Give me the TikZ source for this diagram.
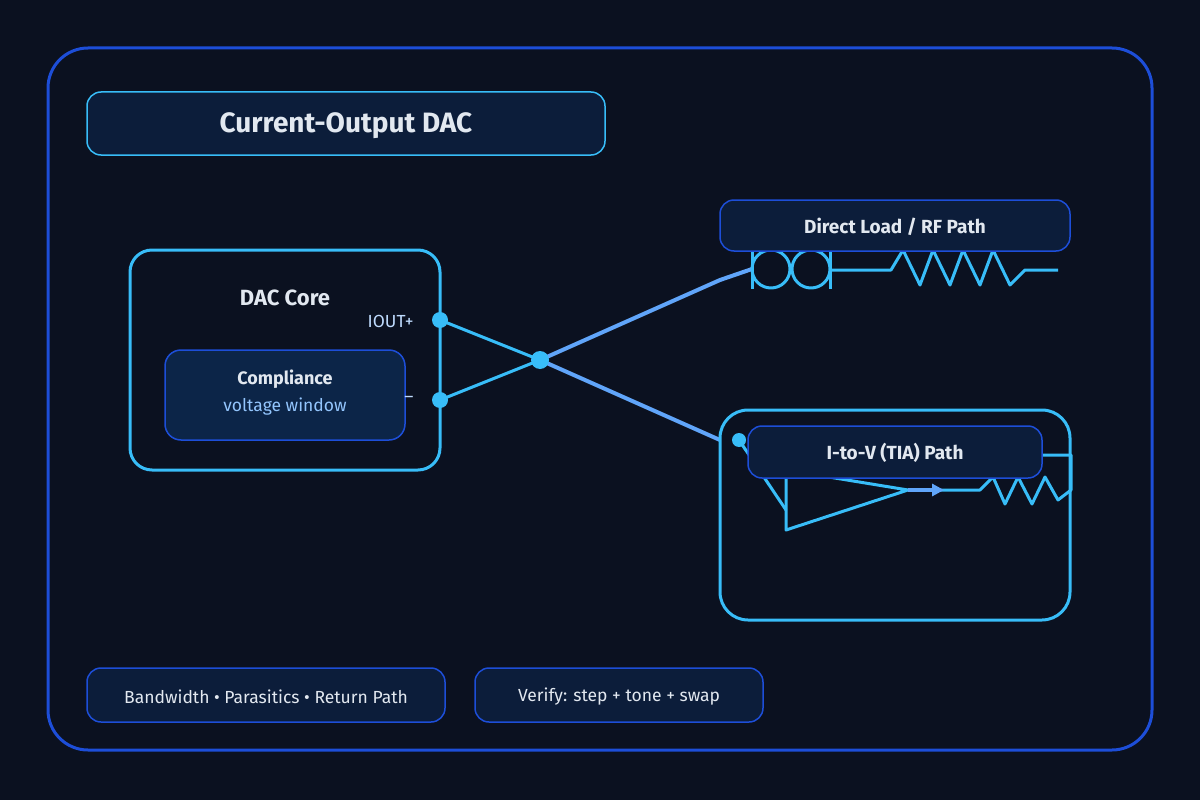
\documentclass[tikz,border=0pt]{standalone}
\usepackage{fontspec}
\setmainfont{Fira Sans}
\usetikzlibrary{arrows.meta}
\definecolor{bg}{HTML}{0B1120}
\definecolor{frame}{HTML}{1D4ED8}
\definecolor{cyan}{HTML}{38BDF8}
\definecolor{sky}{HTML}{60A5FA}
\definecolor{panel}{HTML}{0C1D3A}
\definecolor{panel2}{HTML}{0C2548}
\definecolor{txt}{HTML}{E2E8F0}
\definecolor{soft}{HTML}{93C5FD}
\definecolor{lbl}{HTML}{BFDBFE}
\begin{document}
\begin{tikzpicture}[x=1pt,y=-1pt,
  lbox/.style={draw=frame,fill=panel,line width=1.5pt,rounded corners=14pt},
  wire/.style={cyan,line width=3pt,line join=round},
  feed/.style={sky,line width=4pt},
  dot/.style={circle,fill=cyan,inner sep=0pt,minimum size=#1},
  ttl/.style={text=txt,font=\bfseries\fontsize{19}{22}\selectfont}]
\fill[bg] (0,0) rectangle (1200,800);
\useasboundingbox (0,0) rectangle (1200,800);
\draw[frame,line width=3pt,rounded corners=40pt] (48,48) rectangle (1152,750);
% title
\draw[cyan,fill=panel,line width=1.5pt,rounded corners=14pt] (87,92) rectangle (605,155);
\node[text=txt,font=\bfseries\fontsize{28}{30}\selectfont] (title) at (346,126) {Current-Output DAC};
% DAC core
\draw[cyan,line width=3pt,rounded corners=22pt] (130,250) rectangle (440,470);
\node[text=txt,font=\bfseries\fontsize{22}{24}\selectfont] (core) at (285,298) {DAC Core};
\draw[frame,fill=panel2,line width=1.5pt,rounded corners=16pt] (165,350) rectangle (405,440);
\node[text=txt,font=\bfseries\fontsize{18}{20}\selectfont] (comp) at (285,379) {Compliance};
\node[text=soft,font=\fontsize{17.5}{20}\selectfont] (vw) at (285,407) {voltage window};
\node[text=lbl,font=\fontsize{17.5}{20}\selectfont,anchor=east] (ioutl) at (417,321) {IOUT+};
\node[text=lbl,font=\fontsize{17.5}{20}\selectfont] (minusl) at (409,399) {–};
% junction wires
\coordinate (jn) at (540,360);
\node[dot=16pt] (p) at (440,320) {};
\node[dot=16pt] (m) at (440,400) {};
\draw[feed] (jn) -- (720,280) -- (752,269);
\draw[feed] (jn) -- (720,440);
\draw[wire] (p.center) -- (jn) -- (m.center);
\node[dot=18pt] (j) at (jn) {};
% direct load: inductor + resistor
\draw[wire] (752,250) -- (752,289) (830,250) -- (830,289);
\draw[wire] (771,269) circle (19) (811,269) circle (19);
\draw[wire] (830,270) -- (891,270) -- (903,250) -- (920,285) -- (933,250) -- (950,285) -- (963,250) -- (980,285) -- (993,250) -- (1010,285) -- (1025,270) -- (1058,270);
\node[lbox,minimum width=350pt,minimum height=51pt,inner sep=0pt] (direct) at (895,225.5) {};
\node[ttl] at (895,227) {Direct Load / RF Path};
% TIA
\draw[cyan,line width=3pt,rounded corners=28pt] (720,410) rectangle (1070,620);
\node[dot=14pt] (in) at (739,440) {};
\draw[wire] (in.center) -- (786,510);
\draw[wire] (786,470) -- (786,530) -- (908,490) -- cycle;
\draw[wire] (908,490) -- (980,490) -- (993,477) -- (1005,504) -- (1018,477) -- (1032,504) -- (1045,477) -- (1058,500) -- (1071,490) -- (1071,455) -- (1040,455);
\draw[sky,line width=4pt,-{Triangle[length=12pt,width=12pt]}] (908,490) -- (944,490);
\node[lbox,minimum width=294pt,minimum height=52pt,inner sep=0pt] (tia) at (895,452) {};
\node[ttl] at (895,453) {I-to-V (TIA) Path};
% bottom
\node[lbox,minimum width=358pt,minimum height=54pt,inner sep=0pt] (b1) at (266,695) {};
\node[text=txt,font=\fontsize{17.5}{20}\selectfont] at (266,697) {Bandwidth • Parasitics • Return Path};
\node[lbox,minimum width=288pt,minimum height=54pt,inner sep=0pt] (b2) at (619,695) {};
\node[text=txt,font=\fontsize{17.5}{20}\selectfont] at (619,697) {Verify: step + tone + swap};
\end{tikzpicture}
\end{document}
